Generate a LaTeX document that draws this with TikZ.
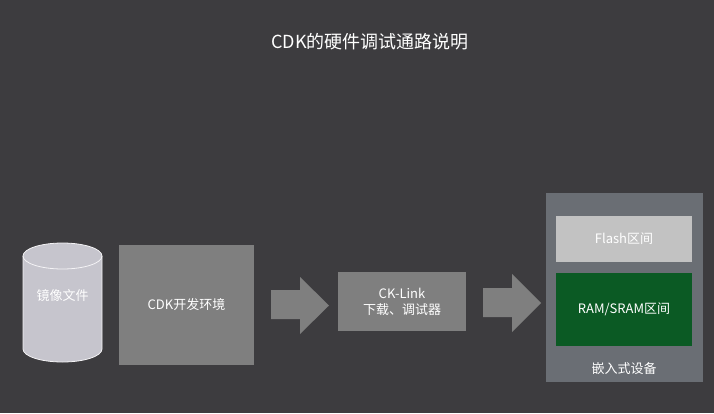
\documentclass[tikz,border=0pt]{standalone}
\usepackage{fontspec}
\setmainfont{Noto Sans CJK SC}
\definecolor{bgc}{HTML}{3D3C3F}
\definecolor{boxc}{HTML}{7F7F7F}
\definecolor{cylc}{HTML}{C6C5CD}
\definecolor{devc}{HTML}{6A6E74}
\definecolor{flashc}{HTML}{C2C2C2}
\definecolor{ramc}{HTML}{0B5A24}
\tikzset{
 lbl/.style={text=white, font=\fontsize{13}{16}\selectfont, align=center, inner sep=0},
 gbox/.style={lbl, fill=boxc, draw=none},
 fatarrow/.style={fill=boxc, draw=none},
}
\begin{document}
\begin{tikzpicture}[x=1pt,y=-1pt]
\fill[bgc] (0,0) rectangle (714,413);
\useasboundingbox (0,0) rectangle (714,413);
\node[text=white, font=\fontsize{18}{22}\selectfont] (title) at (370,42) {CDK的硬件调试通路说明};
% cylinder
\filldraw[fill=cylc, draw=white!80!cylc, line width=0.8pt] (23,256) -- (23,349) arc[start angle=180, end angle=0, x radius=39.5, y radius=13] -- (102,256) arc[start angle=0, end angle=-180, x radius=39.5, y radius=13] -- cycle;
\draw[draw=white!80!cylc, line width=0.8pt] (23,256) arc[start angle=180, end angle=0, x radius=39.5, y radius=13];
\node[lbl] (img) at (62.5,296) {镜像文件};
\node[gbox, minimum width=135, minimum height=120] (cdk) at (186.5,305) {CDK开发环境};
\node[gbox, minimum width=128, minimum height=59] (ck) at (402,301.5) {CK-Link\\下载、调试器};
\node[fill=devc, minimum width=157, minimum height=189, inner sep=0] (dev) at (624.5,287.5) {};
\node[lbl, fill=flashc, minimum width=136, minimum height=46] (flash) at (624,239) {Flash区间};
\node[lbl, fill=ramc, minimum width=136, minimum height=73] (ram) at (624,309.5) {RAM/SRAM区间};
\node[lbl] (devl) at (624,369) {嵌入式设备};
% arrows
\fill[fatarrow] (271,290) -- (300,290) -- (300,277) -- (329,305.5) -- (300,334) -- (300,319) -- (271,319) -- cycle;
\fill[fatarrow] (483,288) -- (512,288) -- (512,274) -- (541,303) -- (512,332) -- (512,317) -- (483,317) -- cycle;
\end{tikzpicture}
\end{document}
